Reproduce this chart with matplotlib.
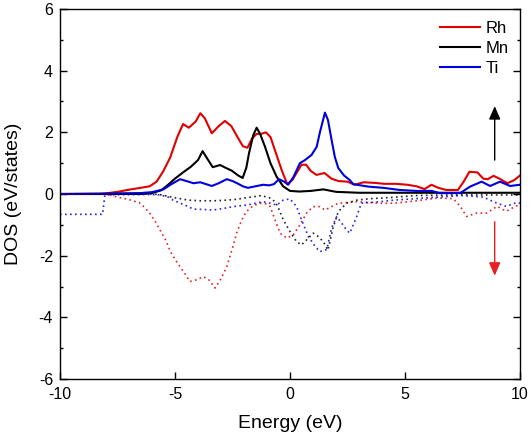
import matplotlib
matplotlib.use("Agg")
import matplotlib.pyplot as plt
from matplotlib.ticker import MultipleLocator

plt.rcParams['font.family'] = ['Liberation Sans', 'DejaVu Sans']

# ---- data ----
rh_up_x = [-10, -8.2, -8.0, -7.5, -7.0, -6.5, -6.1, -5.8, -5.5, -5.2, -4.9, -4.65, -4.4, -4.1, -3.9,
           -3.7, -3.4, -3.1, -2.83, -2.55, -2.3, -2.05, -1.85, -1.65, -1.45, -1.25, -1.05, -0.85, -0.6,
           -0.35, -0.12, 0.1, 0.3, 0.5, 0.7, 0.9, 1.15, 1.5, 1.8, 2.1, 2.5, 2.8, 3.2, 3.7, 4.1, 4.6,
           5.1, 5.5, 5.85, 6.15, 6.45, 6.8, 7.3, 7.55, 7.8, 8.15, 8.4, 8.6, 8.85, 9.1, 9.45, 9.75, 10]
rh_up_y = [0, 0, 0.02, 0.07, 0.14, 0.2, 0.25, 0.4, 0.75, 1.2, 1.85, 2.27, 2.15, 2.35, 2.62,
           2.45, 1.97, 2.2, 2.37, 2.2, 1.87, 1.55, 1.5, 1.8, 1.95, 1.95, 2.0, 1.85, 1.3,
           0.75, 0.32, 0.45, 0.7, 0.95, 0.95, 0.75, 0.62, 0.68, 0.5, 0.42, 0.4, 0.3, 0.38, 0.36, 0.33, 0.33,
           0.3, 0.25, 0.16, 0.3, 0.2, 0.13, 0.13, 0.4, 0.72, 0.7, 0.5, 0.48, 0.59, 0.5, 0.35, 0.45, 0.6]

mn_up_x = [-10, -6.5, -6.0, -5.6, -5.3, -5.0, -4.65, -4.3, -4.0, -3.8, -3.6, -3.36, -3.04, -2.8, -2.54,
           -2.25, -2.06, -1.9, -1.78, -1.6, -1.45, -1.3, -1.09, -0.85, -0.58, -0.3, 0.0, 0.4, 0.9, 1.45,
           2.0, 3.0, 10]
mn_up_y = [0, 0, 0.03, 0.12, 0.3, 0.5, 0.7, 0.89, 1.1, 1.39, 1.15, 0.87, 0.94, 0.85, 0.76,
           0.6, 0.52, 0.85, 1.33, 1.9, 2.15, 1.95, 1.54, 1.0, 0.56, 0.25, 0.1, 0.08, 0.1, 0.15,
           0.07, 0.04, 0.04]

ti_up_x = [-10, -6.5, -6.0, -5.5, -5.2, -4.78, -4.5, -4.2, -3.9, -3.65, -3.4, -3.1, -2.75, -2.5, -2.3,
           -2.05, -1.83, -1.5, -1.17, -0.9, -0.7, -0.48, -0.25, -0.08, 0.15, 0.43, 0.65, 0.94, 1.16,
           1.3, 1.52, 1.65, 1.81, 1.95, 2.1, 2.35, 2.6, 2.75, 3.4, 4.06, 4.78, 5.5, 6.16, 6.5, 7.0,
           7.4, 7.83, 8.33, 8.7, 9.13, 9.57, 10]
ti_up_y = [0, 0.03, 0.06, 0.15, 0.3, 0.48, 0.42, 0.35, 0.38, 0.32, 0.26, 0.35, 0.48, 0.42, 0.35,
           0.25, 0.2, 0.25, 0.3, 0.28, 0.32, 0.48, 0.4, 0.3, 0.55, 1.0, 1.1, 1.27, 1.53,
           2.0, 2.64, 2.4, 1.75, 1.2, 0.84, 0.6, 0.45, 0.32, 0.24, 0.2, 0.13, 0.1, 0.1, 0.03, 0.03,
           0.03, 0.24, 0.4, 0.26, 0.4, 0.26, 0.3]

rh_dn_x = [-10, -8.05, -7.5, -7.0, -6.5, -6.1, -5.85, -5.65, -5.4, -5.2, -4.93, -4.6, -4.35, -4.05,
           -3.77, -3.5, -3.26, -3.0, -2.75, -2.5, -2.3, -2.1, -1.9, -1.6, -1.3, -1.05, -0.87, -0.65,
           -0.43, -0.14, 0.14, 0.43, 0.72, 1.0, 1.3, 1.52, 1.81, 2.1, 2.9, 3.9, 4.5, 5.5, 6.4, 7.1,
           7.4, 7.68, 8.1, 8.55, 9.0, 9.4, 9.86, 10]
rh_dn_y = [0, 0, -0.1, -0.18, -0.3, -0.62, -0.9, -1.17, -1.5, -1.87, -2.2, -2.55, -2.84, -2.78,
           -2.68, -2.8, -3.05, -2.75, -2.36, -1.75, -1.22, -0.85, -0.57, -0.38, -0.3, -0.32, -0.4, -0.84,
           -1.27, -1.43, -1.33, -1.0, -0.62, -0.41, -0.41, -0.52, -0.41, -0.3, -0.25, -0.3, -0.3, -0.22,
           -0.13, -0.15, -0.4, -0.73, -0.62, -0.62, -0.4, -0.56, -0.38, -0.4]

mn_dn_x = [-10, -6.0, -5.65, -4.95, -4.4, -3.9, -3.3, -2.75, -2.3, -1.9, -1.5, -1.25, -0.87, -0.65,
           -0.5, -0.29, 0.0, 0.29, 0.5, 0.8, 1.01, 1.23, 1.45, 1.65, 1.87, 2.1, 2.46, 2.9, 3.5, 4.06,
           5.5, 7.0, 10]
mn_dn_y = [0, 0, -0.02, -0.13, -0.2, -0.22, -0.22, -0.2, -0.17, -0.12, -0.08, -0.05, -0.13, -0.25,
           -0.46, -0.84, -1.22, -1.55, -1.65, -1.43, -1.27, -1.38, -1.55, -1.82, -1.1, -0.57, -0.3,
           -0.2, -0.15, -0.13, -0.05, -0.03, -0.03]

ti_dn_x = [-10, -8.15, -8.05, -7.0, -6.0, -5.65, -5.3, -5.08, -4.6, -4.2, -3.8, -3.35, -2.9, -2.48,
           -1.9, -1.5, -1.17, -0.85, -0.58, -0.3, 0.0, 0.29, 0.5, 0.8, 1.09, 1.3, 1.6, 1.81, 2.03,
           2.25, 2.46, 2.6, 2.9, 3.1, 3.9, 4.5, 5.5, 6.4, 7.5, 8.4, 9.0, 9.4, 9.85, 10]
ti_dn_y = [-0.66, -0.66, -0.03, -0.02, -0.02, -0.03, -0.1, -0.2, -0.35, -0.49, -0.5, -0.52, -0.47,
           -0.41, -0.36, -0.3, -0.25, -0.3, -0.36, -0.2, -0.16, -0.41, -0.84, -1.38, -1.7, -1.87,
           -1.8, -1.1, -0.73, -0.95, -1.17, -1.27, -0.73, -0.3, -0.25, -0.2, -0.15, -0.1, -0.05,
           -0.1, -0.3, -0.4, -0.28, -0.3]

labels = ["Rh", "Mn", "Ti"]
colors = ["#e00000", "#000000", "#0000dd"]
xticks = [-10, -5, 0, 5, 10]
yticks = [-6, -4, -2, 0, 2, 4, 6]

# ---- figure ----
fig = plt.figure(figsize=(5.31, 4.36), dpi=100)
ax = fig.add_axes([60/531, 57/436, 460/531, 370/436])

ups = [(rh_up_x, rh_up_y), (mn_up_x, mn_up_y), (ti_up_x, ti_up_y)]
dns = [(rh_dn_x, rh_dn_y), (mn_dn_x, mn_dn_y), (ti_dn_x, ti_dn_y)]
for (x, y), c, lab in zip(ups, colors, labels):
    ax.plot(x, y, color=c, lw=1.5, label=lab)
for (x, y), c in zip(dns, colors):
    ax.plot(x, y, color=c, lw=1.2, ls=(0, (1, 2)), alpha=0.85)

ax.annotate("", xy=(8.9, 2.85), xytext=(8.9, 1.1),
            arrowprops=dict(arrowstyle="-|>,head_length=0.8,head_width=0.35",
                            color="black", lw=1.0, shrinkA=0, shrinkB=0))
ax.annotate("", xy=(8.9, -2.65), xytext=(8.9, -0.9),
            arrowprops=dict(arrowstyle="-|>,head_length=0.8,head_width=0.35",
                            color="#e82020", lw=1.0, shrinkA=0, shrinkB=0))

ax.set_xlim(-10, 10)
ax.set_ylim(-6, 6)
ax.set_xticks(xticks)
ax.set_yticks(yticks)
ax.yaxis.set_minor_locator(MultipleLocator(1))
ax.tick_params(axis='both', which='major', direction='in', length=5, width=1,
               labelsize=11.5, right=True, top=False)
ax.tick_params(axis='x', which='major', pad=6)
ax.tick_params(axis='y', which='major', pad=5)
ax.tick_params(axis='y', which='minor', direction='in', length=2.5, width=1, right=True)
ax.set_yticklabels([str(v) for v in yticks])
ax.set_xticklabels([str(v) for v in xticks])
for s in ax.spines.values():
    s.set_linewidth(1.0)

ax.set_xlabel("Energy (eV)", fontsize=14, labelpad=9)
ax.set_ylabel("DOS (eV/states)", fontsize=14, labelpad=12)

ax.legend(loc="upper right", frameon=False, fontsize=12, handlelength=2.4,
          handletextpad=0.3, labelspacing=0.3, borderaxespad=0.3)

fig.savefig("out.png", dpi=100)
